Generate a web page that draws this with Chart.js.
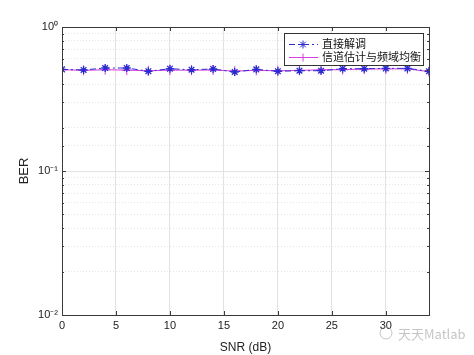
<!DOCTYPE html>
<html>
<head>
<meta charset="utf-8">
<script src="https://cdn.jsdelivr.net/npm/chart.js@4.4.1/dist/chart.umd.min.js"></script>
<style>
html,body{margin:0;padding:0;background:#fff;}
#wrap{width:474px;height:355px;}
</style>
</head>
<body>
<div id="wrap"><canvas id="c" width="474" height="355"></canvas></div>
<script>
// ---- data ----
const snrDb = [0, 2, 4, 6, 8, 10, 12, 14, 16, 18, 20, 22, 24, 26, 28, 30, 32, 34];
const berDirect = [0.508, 0.503, 0.519, 0.519, 0.493, 0.513, 0.505, 0.511, 0.487, 0.508, 0.493, 0.497, 0.497, 0.513, 0.513, 0.516, 0.516, 0.493];
const berEqualized = [0.505, 0.500, 0.505, 0.502, 0.496, 0.502, 0.501, 0.503, 0.494, 0.500, 0.496, 0.500, 0.504, 0.506, 0.510, 0.512, 0.512, 0.490];
const seriesNames = ['直接解调', '信道估计与频域均衡'];
const xTitle = 'SNR (dB)';
const yTitle = 'BER';
const yTickLabels = {'1': '10⁰', '0.1': '10⁻¹', '0.01': '10⁻²'};
const watermark = '天天Matlab';

const BLUE = '#2b2bd0';
const MAGENTA = '#d83ee0';
const AXIS = '#3a3a3a';

function isDecade(v){
  const l = Math.log10(v);
  return Math.abs(l - Math.round(l)) < 1e-9;
}

const boxPlugin = {
  id: 'matlabBox',
  beforeDraw(chart){
    const ctx = chart.ctx;
    ctx.save();
    ctx.fillStyle = '#fff';
    ctx.fillRect(0,0,chart.width,chart.height);
    ctx.restore();
  },
  afterDraw(chart){
    const ctx = chart.ctx;
    const a = chart.chartArea;
    const xs = chart.scales.x, ys = chart.scales.y;
    ctx.save();
    // axes box
    ctx.strokeStyle = AXIS;
    ctx.lineWidth = 1;
    ctx.setLineDash([]);
    ctx.strokeRect(Math.round(a.left)+0.5, Math.round(a.top)+0.5, Math.round(a.right-a.left), Math.round(a.bottom-a.top));
    // inward ticks
    ctx.beginPath();
    xs.ticks.forEach(t => {
      const px = Math.round(xs.getPixelForValue(t.value))+0.5;
      ctx.moveTo(px, a.bottom); ctx.lineTo(px, a.bottom-4);
      ctx.moveTo(px, a.top); ctx.lineTo(px, a.top+4);
    });
    ys.ticks.forEach(t => {
      const py = Math.round(ys.getPixelForValue(t.value))+0.5;
      const len = isDecade(t.value) ? 4 : 2;
      ctx.moveTo(a.left, py); ctx.lineTo(a.left+len, py);
      ctx.moveTo(a.right, py); ctx.lineTo(a.right-len, py);
    });
    ctx.stroke();

    // legend
    const lx = 284, ly = 33, lw = 139, lh = 32;
    ctx.fillStyle = '#fff';
    ctx.fillRect(lx, ly, lw, lh);
    ctx.strokeStyle = '#333';
    ctx.strokeRect(lx+0.5, ly+0.5, lw, lh);
    const rows = [ly+11, ly+24];
    chart.data.datasets.forEach((ds, i) => {
      const y = rows[i] + 0.5;
      ctx.strokeStyle = ds.borderColor;
      ctx.lineWidth = 1;
      ctx.setLineDash(ds.borderDash || []);
      ctx.beginPath();
      ctx.moveTo(lx+5, y); ctx.lineTo(lx+34, y);
      ctx.stroke();
      ctx.setLineDash([]);
      Chart.helpers.drawPoint(ctx, {pointStyle: ds.pointStyle, radius: 4, borderWidth: 1}, lx+19, y);
      ctx.fillStyle = '#111';
      ctx.font = '11px "Noto Sans CJK SC", sans-serif';
      ctx.textBaseline = 'middle';
      ctx.textAlign = 'left';
      ctx.fillText(ds.label, lx+38, rows[i]);
    });

    // watermark
    ctx.fillStyle = 'rgba(150,150,150,0.55)';
    ctx.font = '13px "Noto Sans CJK SC", sans-serif';
    ctx.textBaseline = 'middle';
    ctx.textAlign = 'left';
    ctx.fillText(watermark, 398, 334);
    ctx.strokeStyle = 'rgba(150,150,150,0.55)';
    ctx.beginPath();
    ctx.arc(386, 333, 6, 0, Math.PI*2);
    ctx.stroke();
    ctx.restore();
  }
};

new Chart(document.getElementById('c'), {
  type: 'line',
  data: {
    labels: snrDb,
    datasets: [
      {
        label: seriesNames[0],
        data: snrDb.map((x,i)=>({x, y: berDirect[i]})),
        borderColor: BLUE,
        backgroundColor: BLUE,
        borderWidth: 1,
        borderDash: [6,3,2,3],
        pointStyle: 'star',
        pointRadius: 4,
        pointBorderWidth: 1.3,
        pointBorderColor: BLUE,
        fill: false,
        tension: 0
      },
      {
        label: seriesNames[1],
        data: snrDb.map((x,i)=>({x, y: berEqualized[i]})),
        borderColor: MAGENTA,
        backgroundColor: MAGENTA,
        borderWidth: 1,
        pointStyle: 'cross',
        pointRadius: 5,
        pointBorderWidth: 1,
        pointBorderColor: MAGENTA,
        fill: false,
        tension: 0
      }
    ]
  },
  options: {
    responsive: false,
    animation: false,
    devicePixelRatio: 1,
    layout: {padding: {top: 27, right: 45, left: 0, bottom: 0}},
    plugins: {legend: {display: false}, tooltip: {enabled: false}},
    scales: {
      x: {
        type: 'linear',
        min: 0, max: 34,
        ticks: {
          stepSize: 5,
          includeBounds: false,
          color: '#222',
          font: {family: '"Liberation Sans", Arial, sans-serif', size: 11},
          padding: 4,
          maxRotation: 0
        },
        grid: {color: '#e2e2e2', lineWidth: 1, drawTicks: false},
        border: {display: false},
        title: {display: true, text: xTitle, color: '#222',
          font: {family: '"Liberation Sans", Arial, sans-serif', size: 12}, padding: {top: 2, bottom: 0}},
        afterFit(s){ s.height = 40; }
      },
      y: {
        type: 'logarithmic',
        min: 0.01, max: 1,
        ticks: {
          autoSkip: false,
          color: '#222',
          font: {family: '"Liberation Sans", Arial, sans-serif', size: 11},
          padding: 4,
          callback(v){ return yTickLabels[String(+v.toPrecision(6))] || ''; }
        },
        grid: {
          lineWidth: 1,
          drawTicks: false,
          color: ctx => (ctx.tick && isDecade(ctx.tick.value)) ? '#e2e2e2' : '#e4e4e4'
        },
        border: {
          display: false,
          dash: ctx => (ctx.tick && isDecade(ctx.tick.value)) ? [] : [1,2]
        },
        title: {display: true, text: yTitle, color: '#222',
          font: {family: '"Liberation Sans", Arial, sans-serif', size: 13}, padding: {top: 17, bottom: 0}},
        afterFit(s){ s.width = 62; }
      }
    }
  },
  plugins: [boxPlugin]
});
</script>
</body>
</html>
